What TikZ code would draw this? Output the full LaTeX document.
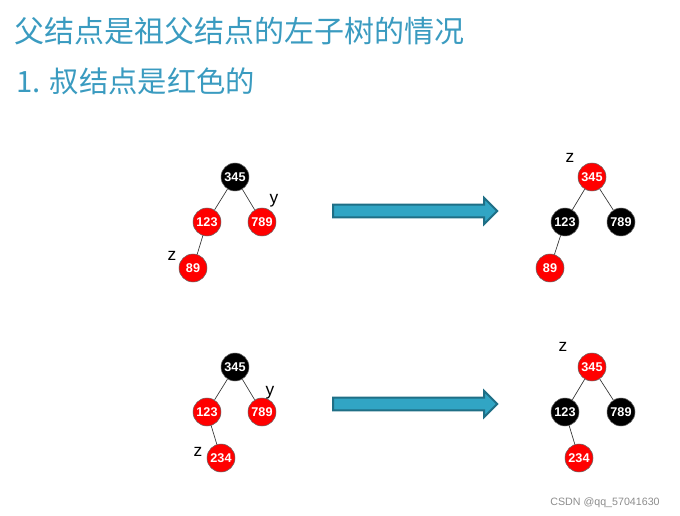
\documentclass[tikz,border=0pt]{standalone}
\usepackage{fontspec}
\setmainfont{Liberation Sans}
\newfontfamily\cjk{Noto Sans CJK SC}
\usetikzlibrary{shapes.arrows}
\definecolor{ttl}{HTML}{3A9BC0}
\definecolor{arrf}{HTML}{31A5C4}
\definecolor{arrd}{HTML}{1F6F86}
\begin{document}
\begin{tikzpicture}[x=0.75pt,y=-0.75pt,
 rb/.style={circle,minimum size=21pt,inner sep=0pt,draw=black!60,line width=0.4pt,text=white,font=\bfseries\fontsize{9.5}{9.5}\selectfont},
 R/.style={rb,fill=red},B/.style={rb,fill=black},
 lbl/.style={font=\fontsize{13}{13}\selectfont},
 edge/.style={draw=black!80,line width=0.5pt},
 bigarr/.style={single arrow,fill=arrf,draw=arrd,line width=1.5pt,minimum height=123pt,inner xsep=0pt,inner ysep=4pt,single arrow head extend=5pt,single arrow head indent=0pt}]
\useasboundingbox (0,0) rectangle (680,516);
\node[anchor=west,text=ttl,font=\cjk\fontsize{22.5}{22.5}\selectfont] (t1) at (10,31) {父结点是祖父结点的左子树的情况};
\node[anchor=west,text=ttl,font=\cjk\fontsize{22}{22}\selectfont] (t2) at (12,81) {1. 叔结点是红色的};
% tree 1 left
\node[B] (a1) at (235,177) {345};
\node[R] (a2) at (207,222) {123};
\node[R] (a3) at (262,222) {789};
\node[R] (a4) at (193,268) {89};
\draw[edge] (a1)--(a2) (a1)--(a3) (a2)--(a4);
\node[lbl] (ay) at (274,201) {y};
\node[lbl] (az) at (172,256) {z};
\node[bigarr] (ar1) at (412,211) {};
% tree 1 right
\node[R] (b1) at (592,177) {345};
\node[B] (b2) at (565,222) {123};
\node[B] (b3) at (621,222) {789};
\node[R] (b4) at (550,268) {89};
\draw[edge] (b1)--(b2) (b1)--(b3) (b2)--(b4);
\node[lbl] (bz) at (570,158) {z};
% tree 2 left
\node[B] (c1) at (235,367) {345};
\node[R] (c2) at (207,412) {123};
\node[R] (c3) at (262,412) {789};
\node[R] (c4) at (221,458) {234};
\draw[edge] (c1)--(c2) (c1)--(c3) (c2)--(c4);
\node[lbl] (cy) at (270,393) {y};
\node[lbl] (cz) at (198,452) {z};
\node[bigarr] (ar2) at (412,404) {};
% tree 2 right
\node[R] (d1) at (592,367) {345};
\node[B] (d2) at (565,412) {123};
\node[B] (d3) at (621,412) {789};
\node[R] (d4) at (579,458) {234};
\draw[edge] (d1)--(d2) (d1)--(d3) (d2)--(d4);
\node[lbl] (dz) at (563,347) {z};
\node[text=black!45,font=\fontsize{8}{8}\selectfont] (wm) at (605,503) {CSDN @qq\_57041630};
\end{tikzpicture}
\end{document}
